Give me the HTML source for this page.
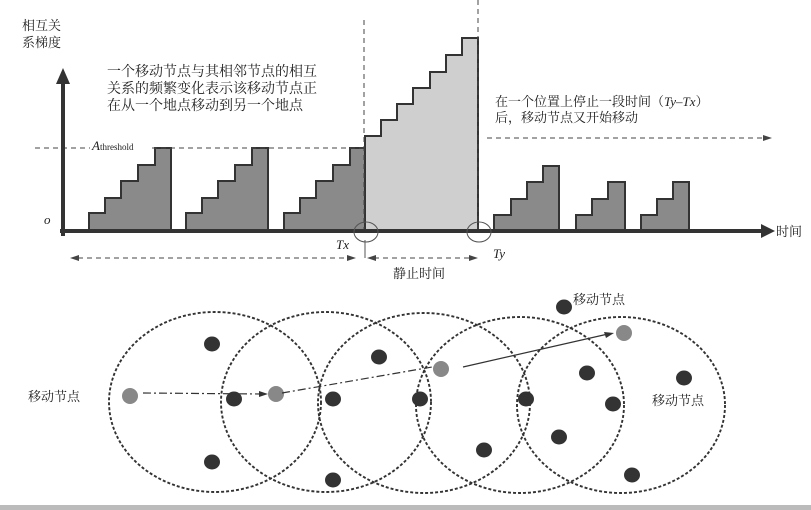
<!DOCTYPE html>
<html><head><meta charset="utf-8"><style>
body{margin:0;background:#fff}
svg{display:block}
text{font-family:"Liberation Serif","Noto Serif CJK SC",serif;fill:#222}
</style></head><body>
<svg width="811" height="510" viewBox="0 0 811 510" xmlns="http://www.w3.org/2000/svg">
<g stroke="#333" stroke-width="2" fill="#8a8a8a">
<path d="M89,231V213H105V198H121V181H138V165H155V148H171V231Z"/>
<path d="M186,231V213H202V198H218V181H235V165H252V148H268V231Z"/>
<path d="M284,231V213H300V198H316V181H333V165H350V148H365V231Z"/>
<path fill="#cfcfcf" d="M365,231V136H381V120H397V104H413V88H430V72H446V55H462V38H478V231Z"/>
<path d="M494,231V215H511V199H527V182H543V166H559V231Z"/>
<path d="M576,231V215H592V199H608V182H625V231Z"/>
<path d="M641,231V215H657V199H673V182H689V231Z"/>
</g>
<g stroke="#444" stroke-width="1" stroke-dasharray="5,4" fill="none">
<line x1="35" y1="148" x2="365" y2="148"/>
<line x1="364" y1="20" x2="364" y2="231"/>
<line x1="478" y1="0" x2="478" y2="231"/>
<line x1="487" y1="138" x2="765" y2="138"/>
<line x1="78" y1="258" x2="348" y2="258"/>
<line x1="374" y1="258" x2="470" y2="258"/>
</g>
<rect x="90" y="138" width="62" height="16" fill="#fff"/>
<g fill="#444">
<path d="M772,138l-9,-3v6z"/>
<path d="M70,258l9,-3v6z"/><path d="M356,258l-9,-3v6z"/>
<path d="M367,258l9,-3v6z"/><path d="M478,258l-9,-3v6z"/>
</g>
<line x1="60" y1="231" x2="762" y2="231" stroke="#333" stroke-width="4"/>
<path d="M775,231l-14,-7v14z" fill="#333"/>
<line x1="63" y1="236" x2="63" y2="82" stroke="#333" stroke-width="4"/>
<path d="M63,68l-7,16h14z" fill="#333"/>
<g fill="none" stroke="#555" stroke-width="1">
<ellipse cx="366" cy="232" rx="12" ry="10"/><ellipse cx="479" cy="232" rx="12" ry="10"/>
<line x1="365" y1="240" x2="365" y2="258"/>
</g>
<g font-size="13">
<text x="22" y="30">相互关</text><text x="22" y="47">系梯度</text>
<text x="44" y="224" font-style="italic">o</text>
<text x="92" y="150" font-style="italic">A<tspan font-size="9" font-style="normal">threshold</tspan></text>
<text x="336" y="249" font-style="italic">Tx</text>
<text x="493" y="258" font-style="italic">Ty</text>
<text x="393" y="278">静止时间</text>
<text x="776" y="236">时间</text>
</g>
<g font-size="14">
<text x="107" y="76">一个移动节点与其相邻节点的相互</text>
<text x="107" y="93">关系的频繁变化表示该移动节点正</text>
<text x="107" y="110">在从一个地点移动到另一个地点</text>
<text x="495" y="106" font-size="13">在一个位置上停止一段时间（<tspan font-style="italic">Ty–Tx</tspan>）</text>
<text x="495" y="122" font-size="13">后，移动节点又开始移动</text>
</g>
<g fill="none" stroke="#333" stroke-width="1.9" stroke-dasharray="3,2">
<ellipse cx="215" cy="402" rx="106" ry="90"/>
<ellipse cx="326" cy="402" rx="105" ry="90"/>
<ellipse cx="424" cy="403" rx="106" ry="90"/>
<ellipse cx="520" cy="405" rx="104" ry="88"/>
<ellipse cx="621" cy="405" rx="104" ry="88"/>
</g>
<g fill="#333">
<ellipse cx="212" cy="344" rx="8" ry="7.5"/><ellipse cx="212" cy="462" rx="8" ry="7.5"/>
<ellipse cx="234" cy="399" rx="8" ry="7.5"/><ellipse cx="333" cy="399" rx="8" ry="7.5"/>
<ellipse cx="379" cy="357" rx="8" ry="7.5"/><ellipse cx="333" cy="480" rx="8" ry="7.5"/>
<ellipse cx="420" cy="399" rx="8" ry="7.5"/><ellipse cx="484" cy="450" rx="8" ry="7.5"/>
<ellipse cx="526" cy="399" rx="8" ry="7.5"/><ellipse cx="564" cy="307" rx="8" ry="7.5"/>
<ellipse cx="587" cy="373" rx="8" ry="7.5"/><ellipse cx="613" cy="404" rx="8" ry="7.5"/>
<ellipse cx="559" cy="437" rx="8" ry="7.5"/><ellipse cx="632" cy="475" rx="8" ry="7.5"/>
<ellipse cx="684" cy="378" rx="8" ry="7.5"/>
</g>
<g fill="#888">
<ellipse cx="130" cy="396" rx="8" ry="8"/><ellipse cx="276" cy="394" rx="8" ry="8"/>
<ellipse cx="441" cy="369" rx="8" ry="8"/><ellipse cx="624" cy="333" rx="8" ry="8"/>
</g>
<g stroke="#333" stroke-width="1.2" fill="none">
<line x1="143" y1="393" x2="262" y2="394" stroke-dasharray="8,3,2,3"/>
<line x1="282" y1="393" x2="432" y2="367" stroke-dasharray="8,3,2,3"/>
<line x1="463" y1="367" x2="608" y2="334"/>
</g>
<path d="M268,394l-9,-3v6z" fill="#333"/>
<path d="M614,333l-10,-1 2,6z" fill="#333"/>
<g font-size="13">
<text x="28" y="401">移动节点</text>
<text x="573" y="304">移动节点</text>
<text x="652" y="405">移动节点</text>
</g>
<rect x="0" y="505" width="811" height="5" fill="#bbb"/>
</svg>
</body></html>
